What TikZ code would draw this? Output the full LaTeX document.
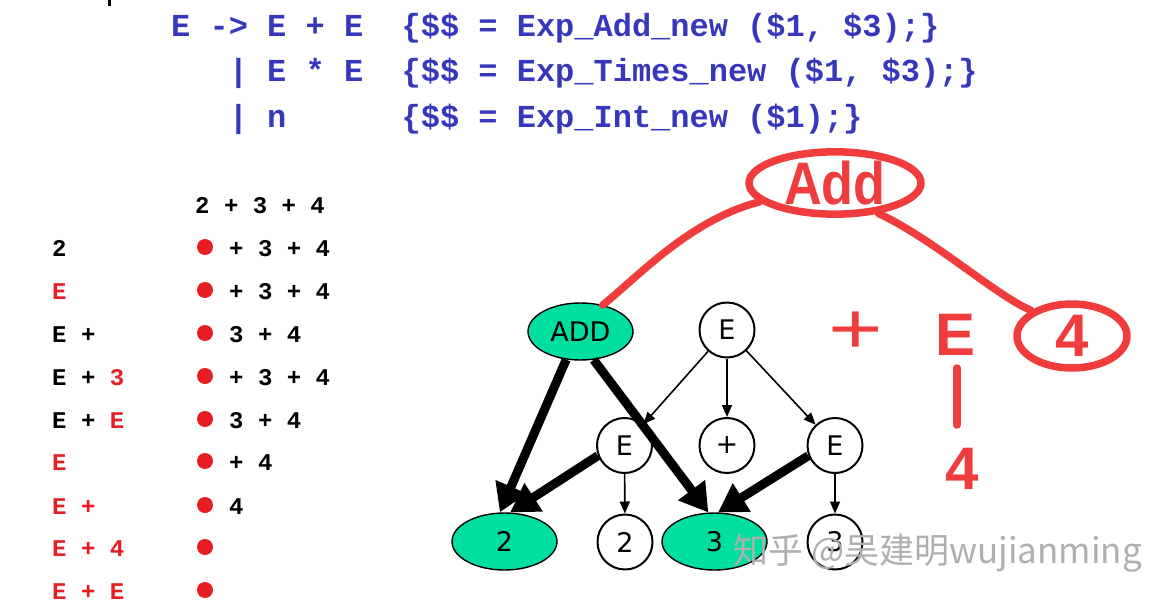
\documentclass[tikz,border=0pt]{standalone}
\usepackage{fontspec}
\setmainfont{DejaVu Sans}
\newfontfamily\monob{Liberation Mono}
\newfontfamily\handf{Liberation Sans}
\newfontfamily\cjk{Noto Sans CJK SC}
\usetikzlibrary{arrows.meta,shapes.geometric}
\definecolor{gblue}{RGB}{55,55,190}
\definecolor{lred}{RGB}{230,30,35}
\definecolor{hred}{RGB}{240,60,60}
\definecolor{mint}{RGB}{0,222,160}
\definecolor{wmark}{RGB}{175,175,175}
\begin{document}
\begin{tikzpicture}[x=1pt,y=-1pt,
  gram/.style={anchor=base west, inner sep=0, text=gblue, font=\monob\bfseries\fontsize{32}{32}\selectfont},
  lst/.style={anchor=base west, inner sep=0, font=\monob\bfseries\fontsize{24}{24}\selectfont},
  rdot/.style={circle, fill=lred, minimum size=16pt, inner sep=0},
  enode/.style={circle, draw, line width=2pt, minimum size=55pt, inner sep=0, font=\fontsize{27}{27}\selectfont},
  gnode/.style={ellipse, draw, fill=mint, line width=1.4pt, minimum width=105pt, minimum height=57pt, inner sep=0, font=\fontsize{27}{27}\selectfont},
  thinarr/.style={-{Triangle[length=12pt,width=10pt]}, line width=1.6pt},
  thickarr/.style={-{Triangle[length=28pt,width=32pt]}, line width=9pt},
  hand/.style={draw=hred, line width=7.5pt, line cap=round, line join=round},
  handtxt/.style={text=hred, inner sep=0, font=\handf\bfseries\fontsize{60}{60}\selectfont}
]
\useasboundingbox (0,0) rectangle (1170,605);
\fill[white] (0,0) rectangle (1170,605);
\fill[black] (108,0) rectangle (111,6);

% grammar
\node[gram] (g1a) at (171,36) {E -> E + E};
\node[gram] (g1b) at (401.4,36) {\{\$\$ = Exp\_Add\_new (\$1, \$3);\}};
\node[gram] (g2a) at (228.6,81) {| E * E};
\node[gram] (g2b) at (401.4,81) {\{\$\$ = Exp\_Times\_new (\$1, \$3);\}};
\node[gram] (g3a) at (228.6,127) {| n};
\node[gram] (g3b) at (401.4,127) {\{\$\$ = Exp\_Int\_new (\$1);\}};

% list
\node[lst] (r1) at (195,213) {2 + 3 + 4};
\node[lst] (l2) at (52,256) {2};
\node[rdot] (d2) at (205,247) {};
\node[lst] (r2) at (229,256) {+ 3 + 4};
\node[lst,text=lred] (l3) at (52,299) {E};
\node[rdot] (d3) at (205,290) {};
\node[lst] (r3) at (229,299) {+ 3 + 4};
\node[lst] (l4) at (52,342) {E +};
\node[rdot] (d4) at (205,333) {};
\node[lst] (r4) at (229,342) {3 + 4};
\node[lst] (l5) at (52,385) {E + \textcolor{lred}{3}};
\node[rdot] (d5) at (205,376) {};
\node[lst] (r5) at (229,385) {+ 3 + 4};
\node[lst] (l6) at (52,428) {E + \textcolor{lred}{E}};
\node[rdot] (d6) at (205,419) {};
\node[lst] (r6) at (229,428) {3 + 4};
\node[lst,text=lred] (l7) at (52,470) {E};
\node[rdot] (d7) at (205,461) {};
\node[lst] (r7) at (229,470) {+ 4};
\node[lst,text=lred] (l8) at (52,514) {E +};
\node[rdot] (d8) at (205,505) {};
\node[lst] (r8) at (229,514) {4};
\node[lst,text=lred] (l9) at (52,556) {E + 4};
\node[rdot] (d9) at (205,547) {};
\node[lst,text=lred] (l10) at (52,599) {E + E};
\node[rdot] (d10) at (205,590) {};

% tree
\node[gnode] (add) at (580.5,331.5) {ADD};
\node[enode] (te) at (727,330) {E};
\node[enode] (el) at (624.5,445.5) {E};
\node[enode] (pl) at (727,445.5) {+};
\node[enode] (er) at (835,445.5) {E};
\node[gnode] (g2) at (504.5,541.5) {2};
\node[enode] (w2) at (625,542) {2};
\node[gnode] (g3) at (714.5,541.5) {3};
\node[enode] (w3) at (835,542) {3};

\draw[thinarr] (te) -- (el);
\draw[thinarr] (te) -- (pl);
\draw[thinarr] (te) -- (er);
\draw[thinarr] (el) -- (w2);
\draw[thinarr] (er) -- (w3);

\draw[thickarr] (add.243) -- (g2.99);
\draw[thickarr] (el.201) -- (g2.79);
\draw[thickarr] (add.295) -- (g3.102);
\draw[thickarr] (er.201) -- (g3.83);

% hand-drawn annotations
\node[ellipse, hand, minimum width=172pt, minimum height=60pt, handtxt] (addr) at (835,183) {\scalebox{0.87}[1]{Add}};
\node[ellipse, hand, minimum width=110pt, minimum height=64pt, handtxt] (four) at (1072,336) {4};
\draw[hand] (add.50) .. controls (640,275) and (690,220) .. (addr.194);
\draw[hand] (addr.325) .. controls (935,240) and (995,295) .. (four.148);
\node[handtxt, font=\handf\fontsize{72}{72}\selectfont] (hp) at (856,333) {\scalebox{1.3}[1]{+}};
\node[handtxt] (he) at (955,335) {E};
\node[handtxt] (h4) at (962,469) {4};
\coordinate (b1) at (957,368);
\coordinate (b2) at (957,425);
\draw[hand] (b1) -- (b2);

% watermark
\node[anchor=base west, inner sep=0, text=wmark, font=\cjk\fontsize{35}{35}\selectfont] (wm) at (733,563) {知乎 @吴建明wujianming};
\end{tikzpicture}
\end{document}
